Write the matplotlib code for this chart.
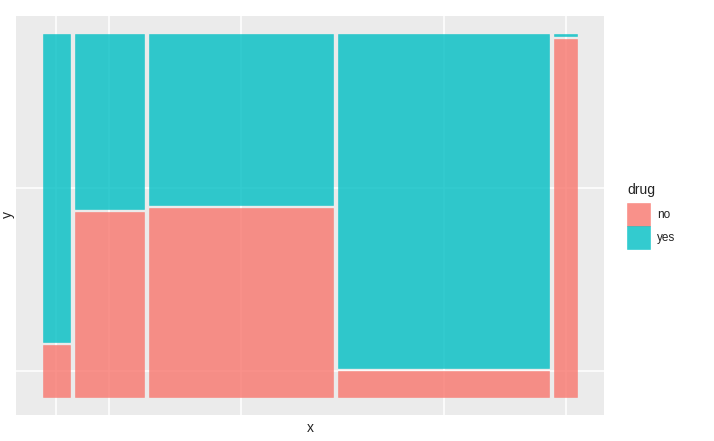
import matplotlib.pyplot as plt
from matplotlib.patches import Rectangle

plt.rcParams["font.family"] = ["Liberation Sans", "DejaVu Sans"]

# counts per x-category, split by drug
groups = ["a", "b", "c", "d", "e"]
no_counts = [78, 710, 1946, 304, 468]
yes_counts = [462, 670, 1754, 3916, 2]
drug_levels = ["no", "yes"]
drug_colors = ["#F8766D", "#00BFC4"]

gap_x = 0.01
gap_y = 0.008

fig = plt.figure(figsize=(7.14, 4.41), dpi=100)
W, H = 714, 441
ax = fig.add_axes([16 / W, 26 / H, 588 / W, 399 / H])
ax.set_facecolor("#EBEBEB")

totals = [n + y for n, y in zip(no_counts, yes_counts)]
grand = sum(totals)
usable_x = 1 - gap_x * (len(groups) - 1)

x0 = 0.0
xcenters = []
ycenters = None
for i, g in enumerate(groups):
    w = totals[i] / grand * usable_x
    h_no = no_counts[i] / totals[i] * (1 - gap_y)
    h_yes = yes_counts[i] / totals[i] * (1 - gap_y)
    ax.add_patch(Rectangle((x0, 0), w, h_no, facecolor=drug_colors[0], alpha=0.8,
                           edgecolor=drug_colors[0], linewidth=0.4, zorder=2))
    ax.add_patch(Rectangle((x0, h_no + gap_y), w, h_yes, facecolor=drug_colors[1], alpha=0.8,
                           edgecolor=drug_colors[1], linewidth=0.4, zorder=2))
    xcenters.append(x0 + w / 2)
    if ycenters is None:
        ycenters = [h_no / 2, h_no + gap_y + h_yes / 2]
    x0 += w + gap_x

ax.set_xlim(-0.05, 1.05)
ax.set_ylim(-0.05, 1.05)
ax.set_xticks(xcenters)
ax.set_yticks(ycenters)
ax.set_xticklabels([])
ax.set_yticklabels([])
ax.tick_params(length=0)
ax.grid(True, color="white", linewidth=1.1, zorder=0)
ax.set_axisbelow(True)
for s in ax.spines.values():
    s.set_visible(False)

# axis titles
fig.text(310 / W, 1 - 428 / H, "x", fontsize=10, color="#222222", va="center", ha="center")
fig.text(8 / W, 1 - 215 / H, "y", fontsize=10, color="#222222", va="center", ha="center",
         rotation=90)

# legend
fig.text(627 / W, 1 - 190 / H, "drug", fontsize=10, color="#222222", va="center", ha="left")
for k, (lab, col) in enumerate(zip(drug_levels, drug_colors)):
    top = 203 + k * 23
    fig.add_artist(Rectangle((627 / W, 1 - (top + 23) / H), 23 / W, 23 / H,
                             transform=fig.transFigure, facecolor=col, alpha=0.8,
                             edgecolor=col, linewidth=0.4))
    fig.text(657 / W, 1 - (top + 12) / H, lab, fontsize=8.5, color="#222222", va="center", ha="left")

fig.savefig("out.png", dpi=100)
